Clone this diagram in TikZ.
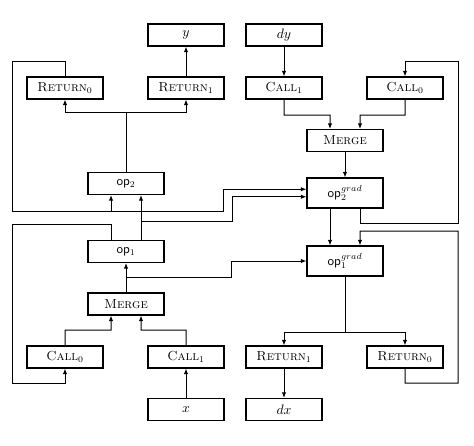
\documentclass[tikz,border=0pt]{standalone}
\usepackage{amsmath,amssymb}
\usepackage{tikz}
\usetikzlibrary{arrows.meta,positioning,calc}

\begin{document}
\begin{tikzpicture}[x=0.8pt, y=-0.8pt,
    blk/.style={draw, line width=0.9pt, minimum width=60.8pt, minimum height=17.6pt, inner sep=0pt, font=\fontsize{10.5}{12}\selectfont},
    gblk/.style={blk, minimum height=24pt},
    wire/.style={line width=0.8pt},
    flow/.style={wire, -{Latex[length=4.5pt,width=3.6pt]}}]
    \useasboundingbox (0,0) rectangle (474,445);

    % Forward program
    \node[blk] (y) at (186,35) {$y$};
    \node[blk] (ret0) at (65,88) {\textsc{Return}$_0$};
    \node[blk] (ret1) at (186,88) {\textsc{Return}$_1$};
    \node[blk] (op2) at (126,183.5) {\textsf{op}$_2$};
    \node[blk] (op1) at (126,251.5) {\textsf{op}$_1$};
    \node[blk] (merge) at (126,304) {\textsc{Merge}};
    \node[blk] (call0) at (65,357) {\textsc{Call}$_0$};
    \node[blk] (call1) at (186,357) {\textsc{Call}$_1$};
    \node[blk] (x) at (186,409.5) {$x$};

    % Gradient program
    \node[blk] (dy) at (284,35) {$dy$};
    \node[blk] (bcall1) at (284,88) {\textsc{Call}$_1$};
    \node[blk] (bcall0) at (405,88) {\textsc{Call}$_0$};
    \node[blk] (bmerge) at (345,140.5) {\textsc{Merge}};
    \node[gblk] (gop2) at (345,193) {\textsf{op}$_2^{grad}$};
    \node[gblk] (gop1) at (345,261) {\textsf{op}$_1^{grad}$};
    \node[blk] (bret1) at (284,357) {\textsc{Return}$_1$};
    \node[blk] (bret0) at (405,357) {\textsc{Return}$_0$};
    \node[blk] (dx) at (284,409.5) {$dx$};

    % op2 to the returns
    \draw[wire] (op2.north) -- (126,112) coordinate (s2);
    \draw[flow] (s2) -| (ret0.south);
    \draw[flow] (s2) -| (ret1.south);
    \draw[flow] (ret1) -- (y);

    % Return0 back to op2 and op2grad
    \draw[flow] (ret0.north) |- (12,61) -- (12,211) -- (223,211) |- ([yshift=3pt]gop2.west);
    \coordinate (c1) at (111,211);
    \draw[flow] (c1) -- (c1 |- op2.south);

    % op1 to op2 and op2grad
    \draw[flow] ([xshift=12pt]op1.north) -- ([xshift=12pt]op2.south);
    \draw[flow] (141,221) -- (232,221) |- ([yshift=-3pt]gop2.west);

    % op1 back to Call0
    \draw[flow] ([xshift=-12pt]op1.north) |- (12,224) -- (12,383) -| (call0.south);

    % Merge to op1 and op1grad
    \draw[flow] (merge) -- (op1);
    \draw[flow] (126,277) -- (231,277) |- (gop1.west);

    % calls into Merge
    \draw[flow] (call0.north) |- (111,330) -- ([xshift=-12pt]merge.south);
    \draw[flow] (call1.north) |- (141,330) -- ([xshift=12pt]merge.south);
    \draw[flow] (x) -- (call1);

    % gradient side
    \draw[flow] (dy) -- (bcall1);
    \draw[flow] (bcall1.south) |- (330,115) -- ([xshift=-12pt]bmerge.north);
    \draw[flow] (bcall0.south) |- (360,115) -- ([xshift=12pt]bmerge.north);
    \draw[flow] (bmerge) -- (gop2);
    \draw[flow] ([xshift=-12pt]gop2.south) -- ([xshift=-12pt]gop1.north);

    % op2grad back to Call0
    \draw[flow] ([xshift=12pt]gop2.south) |- (458,223) |- (405,61) -- (bcall0.north);

    % Return0 back to op1grad
    \draw[flow] (bret0.south) |- (458,383) |- (360,231) -- ([xshift=12pt]gop1.north);

    % op1grad to the returns
    \draw[wire] (gop1.south) -- (345,332) coordinate (s1);
    \draw[flow] (s1) -| (bret1.north);
    \draw[flow] (s1) -| (bret0.north);
    \draw[flow] (bret1) -- (dx);
\end{tikzpicture}
\end{document}
